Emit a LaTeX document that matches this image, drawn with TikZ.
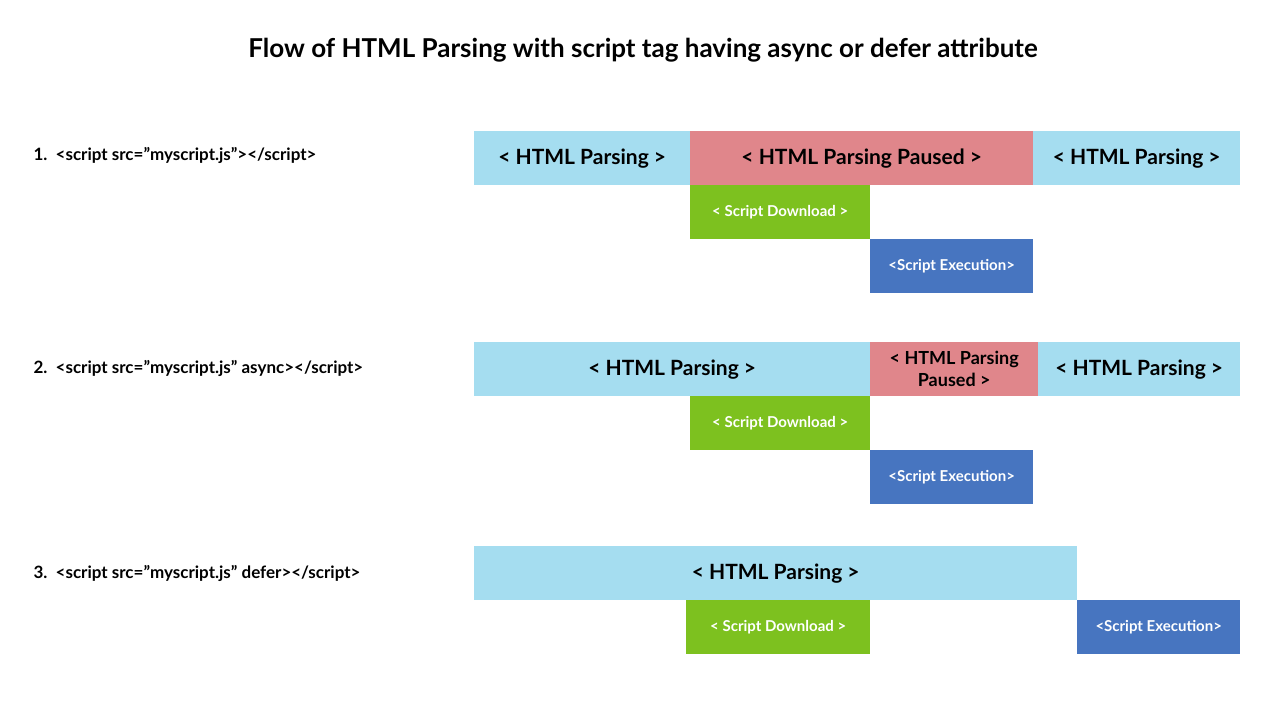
\documentclass[tikz,border=0pt]{standalone}
\usepackage{fontspec}
\setmainfont{Lato}
\definecolor{lb}{HTML}{A5DDF0}
\definecolor{pk}{HTML}{E0868B}
\definecolor{gr}{HTML}{7DC11F}
\definecolor{bl}{HTML}{4775C0}
\tikzset{
 bx/.style={anchor=north west,inner sep=0pt,align=center,font=\bfseries},
 parse/.style={bx,fill=lb,font=\bfseries\fontsize{21}{23}\selectfont},
 paused/.style={bx,fill=pk,font=\bfseries\fontsize{21}{23}\selectfont},
 dl/.style={bx,fill=gr,text=white,font=\bfseries\fontsize{15}{17}\selectfont},
 ex/.style={bx,fill=bl,text=white,font=\bfseries\fontsize{15}{17}\selectfont},
 lbl/.style={anchor=west,font=\bfseries\fontsize{17}{19}\selectfont}
}
\newcommand{\bb}[7]{\node[#1,minimum width=#4pt,minimum height=#5pt] (#2) at (#3) {#6#7};}
\begin{document}
\begin{tikzpicture}[x=1pt,y=-1pt]
\useasboundingbox (0,0) rectangle (1280,720);
\node[font=\bfseries\fontsize{26}{30}\selectfont] (title) at (643,50) {Flow of HTML Parsing with script tag having async or defer attribute};
\node[lbl] (l1) at (30,155) {1.\ \ <script src=”myscript.js”></script>};
\node[lbl] (l2) at (30,368) {2.\ \ <script src=”myscript.js” async></script>};
\node[lbl] (l3) at (30,573) {3.\ \ <script src=”myscript.js” defer></script>};
% row 1
\bb{parse}{a1}{474,131}{216}{54}{< HTML Parsing >}{}
\bb{paused}{b1}{690,131}{343}{54}{< HTML Parsing Paused >}{}
\bb{parse}{c1}{1033,131}{207}{54}{< HTML Parsing >}{}
\bb{dl}{d1}{690,185}{180}{54}{< Script Download >}{}
\bb{ex}{e1}{870,239}{163}{54}{<Script Execution>}{}
% row 2
\bb{parse}{a2}{474,342}{396}{54}{< HTML Parsing >}{}
\node[paused,minimum width=168pt,minimum height=54pt,font=\bfseries\fontsize{18}{22}\selectfont] (b2) at (870,342) {< HTML Parsing\\Paused >};
\bb{parse}{c2}{1038,342}{202}{54}{< HTML Parsing >}{}
\bb{dl}{d2}{690,396}{180}{54}{< Script Download >}{}
\bb{ex}{e2}{870,450}{163}{54}{<Script Execution>}{}
% row 3
\bb{parse}{a3}{474,546}{603}{54}{< HTML Parsing >}{}
\bb{dl}{d3}{686,600}{184}{54}{< Script Download >}{}
\bb{ex}{e3}{1077,600}{163}{54}{<Script Execution>}{}
\end{tikzpicture}
\end{document}
